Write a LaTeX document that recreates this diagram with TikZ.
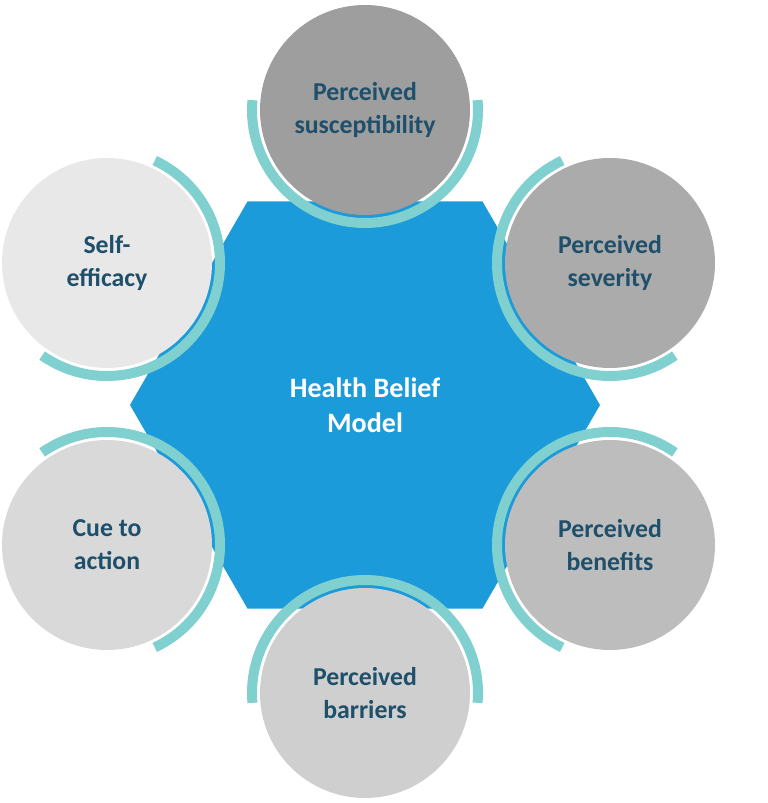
\documentclass[tikz,border=0pt]{standalone}
\usepackage{fontspec}
\setmainfont{Carlito}
\usetikzlibrary{shapes.geometric}
\definecolor{hbmblue}{HTML}{1B9BDA}
\definecolor{ringteal}{HTML}{7FD0CF}
\definecolor{labelblue}{HTML}{1E4F6B}
\tikzstyle{hub} = [regular polygon, 
regular polygon sides=6, 
minimum size=14.1cm, 
fill=hbmblue, 
text=white, 
font=\fontsize{24}{30}\selectfont\bfseries, 
align=center]
\tikzstyle{factor} = [circle, 
minimum size=6.3cm, 
inner sep=0pt, 
text=labelblue, 
font=\fontsize{22}{28}\selectfont\bfseries, 
align=center]
\tikzstyle{ring} = [ringteal, line width=0.3cm]
\begin{document}
\begin{tikzpicture} [x=0.03cm, y=0.03cm]
		\useasboundingbox (0,0) rectangle (768,803);
		\node (hbm) [hub] at (365,398) {Health Belief\\ Model};
		% rings behind the circles, facing the hub
		\foreach \cx/\cy/\ang in {365/693/270, 610/540/210, 610/258/150, 365/110/90, 107/258/30, 107/540/-30}
			\draw [ring] (\cx,\cy) ++(\ang-95:113) arc [start angle=\ang-95, end angle=\ang+95, radius=113];
		\node (susc) [factor, fill=black!38] at (365,693) {Perceived\\ susceptibility};
		\node (sev) [factor, fill=black!33] at (610,540) {Perceived\\ severity};
		\node (ben) [factor, fill=black!26] at (610,258) {Perceived\\ benefits};
		\node (bar) [factor, fill=black!19] at (365,110) {Perceived\\ barriers};
		\node (cue) [factor, fill=black!15] at (107,258) {Cue to\\ action};
		\node (eff) [factor, fill=black!9] at (107,540) {Self-\\ efficacy};
	\end{tikzpicture}
\end{document}
